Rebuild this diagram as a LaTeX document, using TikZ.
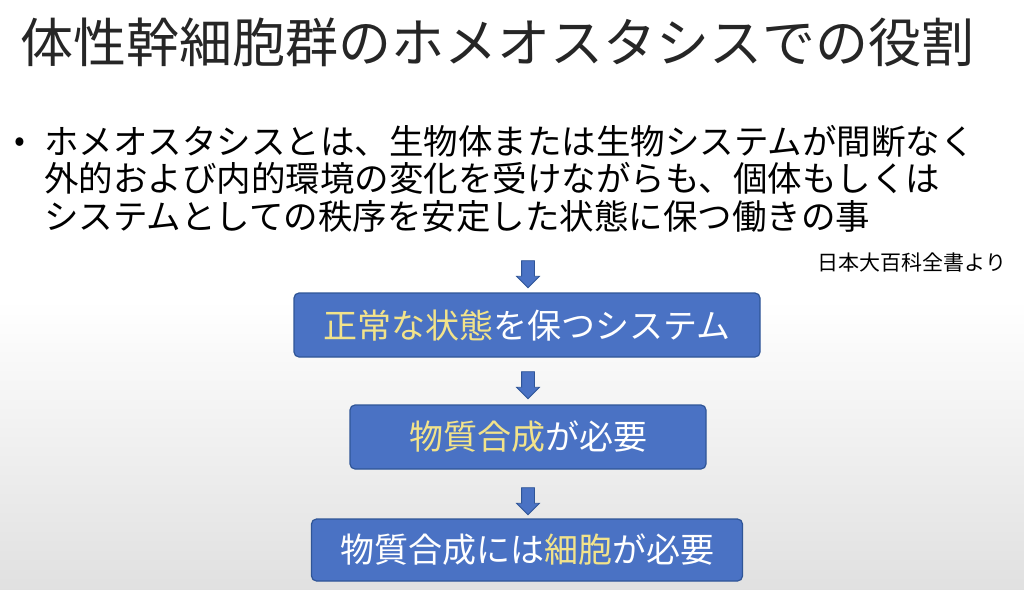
\documentclass[tikz,border=0pt]{standalone}
\usepackage{fontspec}
\usetikzlibrary{shapes.arrows}
\newfontfamily\cjk{Noto Sans CJK JP}
\definecolor{boxfill}{HTML}{4A72C4}
\definecolor{boxedge}{HTML}{2F5597}
\definecolor{yel}{HTML}{F2E38A}
\definecolor{txt}{HTML}{262626}
\begin{document}
\begin{tikzpicture}[x=1pt,y=-1pt,
  flowbox/.style={draw=boxedge,line width=1.2pt,fill=boxfill,rounded corners=5pt,text=white,font=\cjk\fontsize{34}{38}\selectfont,inner sep=0pt},
  downarrow/.style={single arrow,draw=boxedge,fill=boxfill,shape border rotate=270,single arrow head extend=5pt,minimum height=27pt,inner sep=6pt,line width=0.8pt}]
\useasboundingbox (0,0) rectangle (1024,589);
\shade[top color=white,bottom color=white] (0,0) rectangle (1024,300);
\shade[top color=white,bottom color=black!12] (0,300) rectangle (1024,589);
\node[anchor=west,text=txt,font=\cjk\fontsize{53}{58}\selectfont,inner sep=0pt] (title) at (20,42) {体性幹細胞群のホメオスタシスでの役割};
\node[anchor=west,text=black,font=\cjk\fontsize{32}{38}\selectfont,inner sep=0pt] (b) at (14,145) {•};
\node[anchor=north west,text=black,font=\cjk\fontsize{34.5}{37.5}\selectfont,align=left,inner sep=0pt] (body) at (44,125) {ホメオスタシスとは、生物体または生物システムが間断なく\\外的および内的環境の変化を受けながらも、個体もしくは\\システムとしての秩序を安定した状態に保つ働きの事};
\node[text=black,font=\cjk\fontsize{21}{24}\selectfont] (src) at (912,263) {日本大百科全書より};
\node[flowbox,minimum width=466pt,minimum height=64pt] (box1) at (527,325) {\textcolor{yel}{正常な状態}を保つシステム};
\node[flowbox,minimum width=356pt,minimum height=64pt] (box2) at (528,437) {\textcolor{yel}{物質合成}が必要};
\node[flowbox,minimum width=431pt,minimum height=62pt] (box3) at (527,550) {物質合成には\textcolor{yel}{細胞}が必要};
\node[downarrow] (a1) at (528,271) {};
\node[downarrow] (a2) at (528,382) {};
\node[downarrow] (a3) at (528,498) {};
\end{tikzpicture}
\end{document}
